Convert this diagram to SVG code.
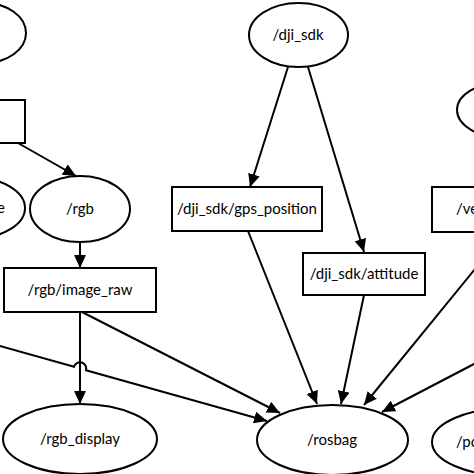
<svg xmlns="http://www.w3.org/2000/svg" width="474" height="474" viewBox="0 0 474 474">
<defs>
<marker id="arr" markerUnits="userSpaceOnUse" markerWidth="14" markerHeight="12" refX="13" refY="6" orient="auto">
<path d="M0,0 L13,6 L0,12 z" fill="#000"/>
</marker>
<style>
.n{fill:#fff;stroke:#000;stroke-width:2}
.t{font-family:Lato,"Open Sans","Liberation Sans",sans-serif;font-size:15px;fill:#000;text-anchor:middle}
.e{fill:none;stroke:#000;stroke-width:2;marker-end:url(#arr)}
</style>
</defs>
<rect width="474" height="474" fill="#fff"/>
<g id="connectors">
<path class="e" d="M18,143 L76,176"/>
<path class="e" d="M80,242 L80,268"/>
<path class="e" d="M80,312 L80,404"/>
<path class="e" d="M288,67 L250,187"/>
<path class="e" d="M308,67 L364,252"/>
<path class="e" d="M248,231 L317,404"/>
<path class="e" d="M364,295 L341,404"/>
<path class="e" d="M82,312 L280,413"/>
<path class="e" d="M-20,340.4 L74,366.8 A6,6 0 0 1 86,370.2 L267,421"/>
<path class="e" d="M506,231 L364,405"/>
<path class="e" d="M520,340 L382,412"/>
</g>
<g id="node-topleft"><ellipse class="n" cx="-16" cy="33" rx="42" ry="30"/></g>
<g id="node-leftrect"><rect class="n" x="-10" y="100" width="35" height="43"/></g>
<g id="node-leftellipse"><ellipse class="n" cx="-25" cy="208" rx="50" ry="30"/><text class="t" x="5" y="213" style="text-anchor:end">e</text></g>
<g id="node-rgb"><ellipse class="n" cx="80" cy="209" rx="50" ry="33"/><text class="t" x="80" y="214">/rgb</text></g>
<g id="node-image-raw"><rect class="n" x="4" y="268" width="152" height="44"/><text class="t" x="80" y="295">/rgb/image_raw</text></g>
<g id="node-rgb-display"><ellipse class="n" cx="80" cy="439" rx="77" ry="35"/><text class="t" x="80" y="444">/rgb_display</text></g>
<g id="node-dji-sdk"><ellipse class="n" cx="298.5" cy="35" rx="49.5" ry="32"/><text class="t" x="298" y="40">/dji_sdk</text></g>
<g id="node-gps"><rect class="n" x="172" y="187" width="150" height="44"/><text class="t" x="247" y="214">/dji_sdk/gps_position</text></g>
<g id="node-attitude"><rect class="n" x="303" y="253" width="122" height="42"/><text class="t" x="364" y="279">/dji_sdk/attitude</text></g>
<g id="node-topright"><ellipse class="n" cx="505" cy="110" rx="48" ry="28"/></g>
<g id="node-ve"><rect class="n" x="432" y="187" width="60" height="45"/><text class="t" x="456" y="214" style="text-anchor:start">/ve</text></g>
<g id="node-rosbag"><ellipse class="n" cx="332.5" cy="440" rx="75.5" ry="35"/><text class="t" x="332" y="445">/rosbag</text></g>
<g id="node-pc"><ellipse class="n" cx="510" cy="442" rx="78" ry="34"/><text class="t" x="456" y="447" style="text-anchor:start">/pc</text></g>
</svg>
